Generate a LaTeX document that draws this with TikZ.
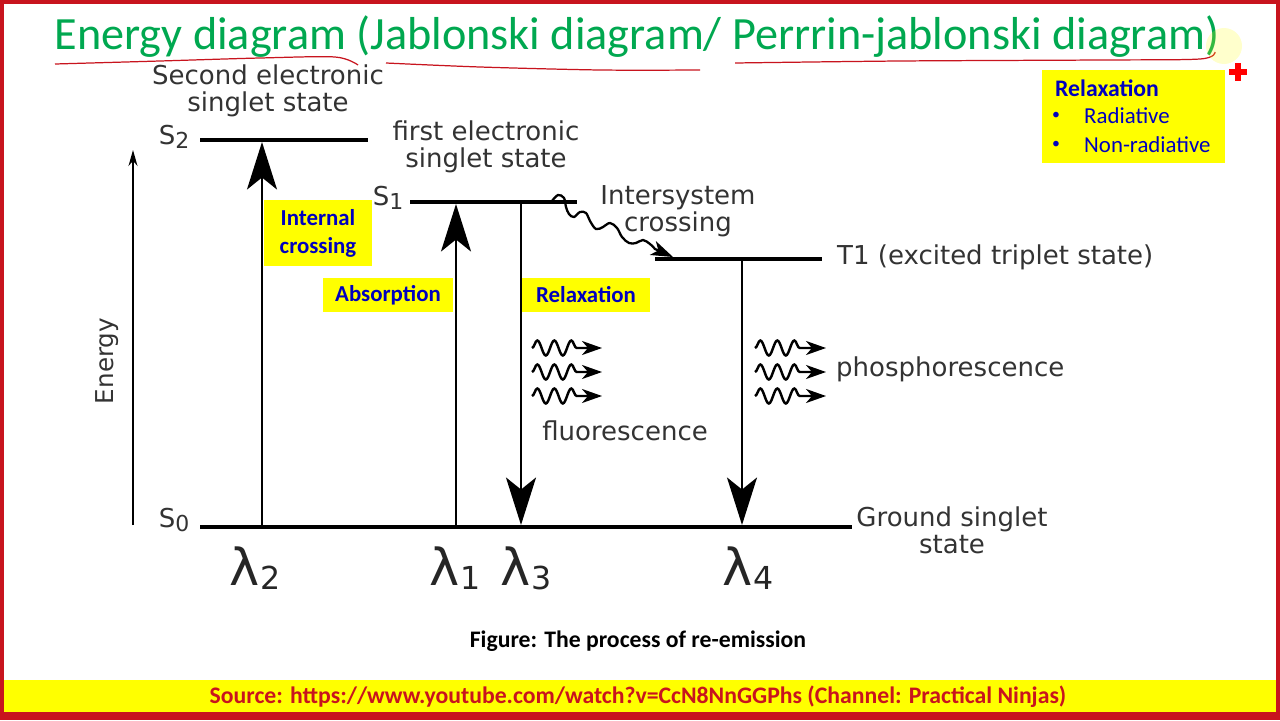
\documentclass[tikz,border=0pt]{standalone}
\usepackage{fontspec}
\setmainfont{DejaVu Sans}
\newfontfamily\calibri{Carlito}
\usetikzlibrary{arrows.meta,decorations.pathmorphing,positioning}

\definecolor{titlegreen}{RGB}{0,168,80}
\definecolor{labelblue}{RGB}{0,0,190}
\definecolor{framered}{RGB}{200,20,30}
\definecolor{hilite}{RGB}{255,255,0}

\newcommand{\lvl}[2]{#1\raisebox{-0.18em}{\fontsize{12.5}{13}\selectfont #2}}
\newcommand{\lam}[1]{λ\raisebox{-0.08em}{\fontsize{18}{19}\selectfont #1}}

\tikzset{
  level/.style={line width=2.8pt},
  trans/.style={line width=1.3pt, -{Stealth[length=9.5mm,width=6mm,inset=2.4mm]}},
  wave/.style={line width=1.4pt, -{Stealth[length=4mm,width=2.8mm,inset=1.2mm]},
    decorate, decoration={snake, segment length=0.34cm, amplitude=0.15cm, post length=0.48cm}},
  lbl/.style={font=\fontsize{14.8}{15.4}\selectfont, text=black!80},
  lamlbl/.style={font=\fontsize{29}{32}\selectfont, text=black!85},
  ybox/.style={fill=hilite, text=labelblue, font=\calibri\bfseries\fontsize{13}{16}\selectfont, inner sep=0pt},
  keytxt/.style={text=labelblue, font=\calibri\fontsize{13}{16}\selectfont},
}

\begin{document}
\begin{tikzpicture}[x=0.02cm,y=-0.02cm]
\useasboundingbox (0,0) rectangle (1280,720);

% Frame and source band
\fill[white] (0,0) rectangle (1280,720);
\fill[hilite] (4,680) rectangle (1276,712);
\draw[framered, line width=0.07cm] (2,2) rectangle (1278,716);
\fill[framered] (0,712) rectangle (1280,720);

% Title
\node[font=\calibri\fontsize{26.3}{30}\selectfont, text=titlegreen] (title) at (637,37)
  {Energy diagram (Jablonski diagram/ Perrrin-jablonski diagram)};
\draw[framered, line width=0.7pt] plot[smooth] coordinates {(55,64) (160,61) (260,58) (335,57) (358,65)};
\draw[framered, line width=0.7pt] plot[smooth] coordinates {(386,63) (480,67) (600,70) (700,70)};
\draw[framered, line width=0.7pt] plot[smooth] coordinates {(735,63) (900,61) (1100,60) (1200,59) (1215,52)};
\fill[hilite, opacity=0.2] (1224,46) circle (18);
\fill[red] (1235,63) rectangle (1241,81);
\fill[red] (1229,69) rectangle (1247,75);

% Relaxation key
\fill[hilite] (1042,70) rectangle (1225,163);
\node[anchor=west, text=labelblue, font=\calibri\bfseries\fontsize{13.5}{16}\selectfont] (relhead) at (1049,88) {Relaxation};
\node[keytxt, font=\calibri\fontsize{9}{10}\selectfont] (b1) at (1056,116) {•};
\node[keytxt, anchor=west] (rad) at (1078,116) {Radiative};
\node[keytxt, font=\calibri\fontsize{9}{10}\selectfont] (b2) at (1056,145) {•};
\node[keytxt, anchor=west] (nonrad) at (1078,145) {Non-radiative};

% Coordinates
\coordinate (S2a) at (200,140);
\coordinate (S2b) at (368,140);
\coordinate (S1a) at (410,202);
\coordinate (S1b) at (577,202);
\coordinate (T1a) at (655,259);
\coordinate (T1b) at (822,259);
\coordinate (S0a) at (200,527);
\coordinate (S0b) at (852,527);
\coordinate (Eb) at (133,525);
\coordinate (Et) at (133,150);

% Energy levels
\draw[level] (S2a) -- (S2b);
\draw[level] (S1a) -- (S1b);
\draw[level] (T1a) -- (T1b);
\draw[level] (S0a) -- (S0b);
\draw[line width=0.8pt, -{Stealth[length=3.2mm,width=1.8mm]}] (Eb) -- (Et);

% Transitions
\draw[trans] (262,526) -- (262,142);
\draw[trans] (456,526) -- (456,204);
\draw[trans] (521,203) -- (521,525);
\draw[trans] (742,260) -- (742,525);

% Photons
\foreach \y in {348,372,396} {
  \coordinate (fa\y) at (532,\y);
  \coordinate (fb\y) at (602,\y);
  \coordinate (pa\y) at (755,\y);
  \coordinate (pb\y) at (826,\y);
  \draw[wave] (fa\y) -- (fb\y);
  \draw[wave] (pa\y) -- (pb\y);
}
% Intersystem crossing
\coordinate (isca) at (552,201);
\coordinate (iscb) at (673,257);
\draw[line width=1.3pt, -{Stealth[length=4.4mm,width=3mm,inset=1.2mm]}] plot[smooth, tension=0.6] coordinates
  {(isca) (558,195) (564,198) (566,207) (569,214) (574,217) (580,212) (586,213) (590,221)
   (596,229) (603,227) (610,223) (617,228) (622,237) (629,243) (636,243) (643,240) (650,244) (655,249)}
  -- (iscb);

% Labels
\node[lbl, align=center] (s2txt) at (268,91) {Second electronic\\singlet state};
\node[lbl, align=center] (s1txt) at (486,147) {first electronic\\singlet state};
\node[lbl, align=center, font=\fontsize{14.8}{13.2}\selectfont] (isctxt) at (678,211) {Intersystem\\crossing};
\node[lbl] (s2lbl) at (174,137) {\lvl{S}{2}};
\node[lbl] (s1lbl) at (388,198) {\lvl{S}{1}};
\node[lbl] (s0lbl) at (174,520) {\lvl{S}{0}};
\node[lbl, anchor=west] (t1txt) at (831,257) {T1 (excited triplet state)};
\node[lbl, anchor=west] (phos) at (830,369) {phosphorescence};
\node[lbl] (fluo) at (625,431) {fluorescence};
\node[lbl, align=center] (gnd) at (952,530) {Ground singlet\\state};
\node[lbl, rotate=90, font=\fontsize{14}{16}\selectfont] (energy) at (107,361) {Energy};

\node[lamlbl] (lam2) at (255,568) {\lam{2}};
\node[lamlbl] (lam1) at (455,568) {\lam{1}};
\node[lamlbl] (lam3) at (526,568) {\lam{3}};
\node[lamlbl] (lam4) at (748,568) {\lam{4}};

% Yellow tags
\node[ybox, minimum width=2.18cm, minimum height=1.32cm, align=center] (intc) at (318,233) {Internal\\crossing};
\node[ybox, minimum width=2.6cm, minimum height=0.68cm] (absn) at (388,295) {Absorption};
\node[ybox, minimum width=2.56cm, minimum height=0.68cm] (relx) at (586,295) {Relaxation};

% Caption and source
\node[font=\calibri\bfseries\fontsize{13.5}{16}\selectfont] (cap) at (638,641) {Figure: The process of re-emission};
\node[font=\calibri\bfseries\fontsize{13.5}{16}\selectfont, text=framered] (src) at (638,697)
  {Source: https://www.youtube.com/watch?v=CcN8NnGGPhs (Channel: Practical Ninjas)};

\end{tikzpicture}
\end{document}
